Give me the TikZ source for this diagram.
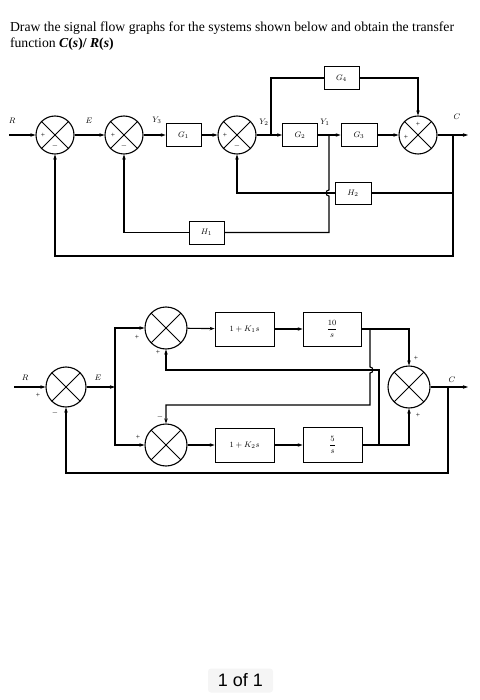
\documentclass[tikz,border=0pt]{standalone}
\usepackage{fontspec}
\setmainfont{Liberation Serif}
\newfontfamily\uisans{Liberation Sans}
\usetikzlibrary{arrows.meta}
\begin{document}
\begin{tikzpicture}[x=1pt,y=-1pt,
  line width=1.1pt,
  >={Stealth[length=5pt,width=3.5pt]},
  sumT/.style={circle,draw,minimum size=38pt,inner sep=0pt,line width=1.1pt,
    path picture={\draw[line width=0.9pt] (path picture bounding box.north west)--(path picture bounding box.south east) (path picture bounding box.north east)--(path picture bounding box.south west);}},
  sumB/.style={sumT,minimum size=42pt},
  blkT/.style={draw,minimum width=35pt,minimum height=23pt,inner sep=0pt,font=\fontsize{8.5}{9}\selectfont,line width=0.8pt},
  blkB/.style={draw,minimum width=59pt,minimum height=34pt,inner sep=0pt,font=\fontsize{8.5}{9}\selectfont,line width=0.8pt},
  lbl/.style={font=\fontsize{8.5}{9}\selectfont,inner sep=0pt},
  sgn/.style={font=\fontsize{7.5}{8}\selectfont,inner sep=0pt},
]
\useasboundingbox (0,0) rectangle (479,700);

% title
\node[anchor=base west,inner sep=0pt,font=\fontsize{13.7}{16}\selectfont] (t1) at (9.5,32)
  {Draw the signal flow graphs for the systems shown below and obtain the transfer};
\node[anchor=base west,inner sep=0pt,font=\fontsize{13.7}{16}\selectfont] (t2) at (9.5,48)
  {function \textbf{\textit{C}(\textit{s})/ \textit{R}(\textit{s})}};

% ---------------- top diagram ----------------
\node[sumT] (s1) at (55,135) {};
\node[sumT] (s2) at (124,135) {};
\node[blkT] (g1) at (183.5,135) {$G_1$};
\node[sumT] (s3) at (237,135) {};
\node[blkT] (g2) at (300,135) {$G_2$};
\node[blkT,minimum width=36pt] (g3) at (359,135) {$G_3$};
\node[sumT] (s4) at (418,135) {};
\node[blkT] (g4) at (341.5,78) {$G_4$};
\node[blkT,minimum width=36pt,minimum height=22pt] (h2) at (353,193) {$H_2$};
\node[blkT] (h1) at (206.5,232.5) {$H_1$};

\coordinate (rin) at (9,135);
\coordinate (b2) at (271,135);
\coordinate (b1) at (329,135);
\coordinate (bc) at (453,135);
\coordinate (cout) at (468,135);
\coordinate (cb) at (453,256);

\draw[->] (rin) -- (s1);
\draw[->] (s1) -- (s2);
\draw[->] (s2) -- (g1);
\draw[->] (g1) -- (s3);
\draw[->] (s3) -- (g2);
\draw[->] (g2) -- (g3);
\draw[->] (g3) -- (s4);
\draw[->] (s4) -- (cout);
\draw (b2) |- (g4);
\draw[->] (g4) -| (s4);
\draw (b1) -- (329,190) arc[start angle=90,end angle=270,radius=3pt] -- (329,232.5) -- (h1);
\draw[->] (h1) -| (s2);
\draw (bc) |- (h2);
\draw[->] (h2) -| (s3);
\draw[->] (bc) -- (cb) -| (s1);

\node[lbl] (lR) at (12,121) {$R$};
\node[lbl] (lE) at (89,121) {$E$};
\node[lbl] (lY3) at (157,120) {$Y_3$};
\node[lbl] (lY2) at (264,122) {$Y_2$};
\node[lbl] (lY1) at (325,122) {$Y_1$};
\node[lbl] (lC) at (457,117) {$C$};

\node[sgn] (p1) at (43,135) {+};
\node[sgn] (m1) at (55,146) {$-$};
\node[sgn] (p2) at (113,135) {+};
\node[sgn] (m2) at (124,146) {$-$};
\node[sgn] (p3) at (225,135) {+};
\node[sgn] (m3) at (237,146) {$-$};
\node[sgn] (p4a) at (418,124) {+};
\node[sgn] (p4b) at (406,137) {+};

% ---------------- bottom diagram ----------------
\node[sumB,minimum size=40pt] (sE) at (66,387) {};
\node[sumB] (sA) at (166,328) {};
\node[sumB] (sB) at (166,445) {};
\node[sumB] (sC) at (409,387) {};
\node[blkB] (k1) at (244.5,329) {$1+K_1s$};
\node[blkB,minimum width=58pt] (t10) at (332,329) {$\displaystyle\frac{10}{s}$};
\node[blkB] (k2) at (244.5,445) {$1+K_2s$};
\node[blkB,minimum height=35pt] (t5) at (332.5,445) {$\displaystyle\frac{5}{s}$};

\coordinate (rin2) at (14,387);
\coordinate (ej) at (115,387);
\coordinate (b10) at (370,329);
\coordinate (b5) at (379,445);
\coordinate (bc2) at (448,387);
\coordinate (cout2) at (468,387);

\draw[->] (rin2) -- (sE);
\draw[->] (sE) -- (ej);
\draw[->] (ej) |- (sA);
\draw[->] (ej) |- (sB);
\draw[->] (sA) -- (k1);
\draw[->] (k1) -- (t10);
\draw[->] (t10) -| (sC);
\draw[->] (sB) -- (k2);
\draw[->] (k2) -- (t5);
\draw[->] (t5) -| (sC);
\draw[->] (sC) -- (cout2);
\draw[->] (b10) -- (370,367) arc[start angle=90,end angle=-90,radius=3pt] -- (370,405) -| (sB);
\draw[->] (b5) -- (379,370) -| (sA);
\draw[->] (bc2) -- (448,473) -| (sE);

\node[lbl] (lR2) at (25,378) {$R$};
\node[lbl] (lE2) at (98,378) {$E$};
\node[lbl] (lC2) at (452,380) {$C$};

\node[sgn] (q1) at (38,395) {+};
\node[sgn] (q2) at (55,413) {$-$};
\node[sgn] (q3) at (137,337) {+};
\node[sgn] (q4) at (158,352) {+};
\node[sgn] (q5) at (160,417) {$-$};
\node[sgn] (q6) at (138,437) {+};
\node[sgn] (q7) at (416,358) {+};
\node[sgn] (q8) at (418,415) {+};

% page indicator
\node[fill=gray!8,rounded corners=3pt,minimum width=65pt,minimum height=24pt,inner sep=0pt,
  font=\uisans\fontsize{18}{20}\selectfont] (pg) at (240.5,680.5) {1 of 1};
\end{tikzpicture}
\end{document}
